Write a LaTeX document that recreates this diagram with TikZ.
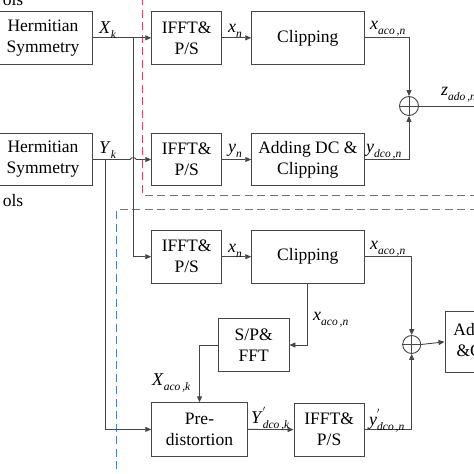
\documentclass[tikz,border=0pt]{standalone}
\usepackage{fontspec}
\setmainfont{Liberation Serif}
\usetikzlibrary{arrows.meta}
\definecolor{ln}{RGB}{70,70,70}
\definecolor{redd}{RGB}{205,75,100}
\definecolor{blued}{RGB}{75,125,195}
\newcommand\sbs[1]{\raisebox{-5.5pt}{\fontsize{11.5}{12}\selectfont\itshape #1}}
\newcommand\lbl[2]{\textit{#1}\sbs{#2}}
\newcommand\lblp[2]{\textit{#1}\rlap{\raisebox{7pt}{\fontsize{11.5}{12}\selectfont$'$}}\sbs{#2}}
\begin{document}
\begin{tikzpicture}[x=1pt,y=1pt,
  blk/.style={draw=ln,line width=0.9pt,rectangle,align=center,inner sep=0pt,
     font=\fontsize{17.5}{21}\selectfont,minimum height=52.5pt},
  sumc/.style={draw=ln,line width=0.9pt,circle,minimum size=19pt,inner sep=0pt},
  con/.style={draw=ln,line width=0.9pt},
  arr/.style={con,-{Triangle[length=6pt,width=5pt]}},
  lab/.style={anchor=base west,inner sep=0pt,font=\fontsize{18}{20}\selectfont},
  rframe/.style={draw=redd,line width=1.3pt,dash pattern=on 8pt off 4.5pt},
  bframe/.style={draw=blued,line width=1.3pt,dash pattern=on 8pt off 4.5pt}]
\useasboundingbox (0,0) rectangle (474,-474);
\clip (0,0) rectangle (474,-474);
% frames
\draw[rframe] (490,-195.5) -- (142.7,-195.5) -- (142.7,10);
\draw[bframe] (490,-209.5) -- (116.7,-209.5) -- (116.7,-490);
% side texts
\node[lab,anchor=base east,font=\fontsize{17.5}{21}\selectfont] (s1) at (23.5,-5) {ols};
\node[lab,anchor=base east,font=\fontsize{17.5}{21}\selectfont] (s2) at (23.5,-206) {ols};
% blocks
\node[blk,minimum width=99.4pt] (h1) at (43,-37.85) {Hermitian\\Symmetry};
\node[blk,minimum width=99.4pt] (h2) at (43,-159.5) {Hermitian\\Symmetry};
\node[blk,minimum width=70pt] (f1) at (186.7,-37.85) {IFFT\&\\P/S};
\node[blk,minimum width=70pt] (f2) at (186.7,-159.5) {IFFT\&\\P/S};
\node[blk,minimum width=112.3pt] (c1) at (307.85,-37.85) {Clipping};
\node[blk,minimum width=112.3pt] (c2) at (307.85,-159.5) {Adding DC \&\\Clipping};
\node[sumc] (o1) at (409,-106) {};
\node[blk,minimum width=70pt] (f3) at (186.7,-256.7) {IFFT\&\\P/S};
\node[blk,minimum width=112.3pt] (c3) at (307.85,-256.7) {Clipping};
\node[blk,minimum width=70.7pt,minimum height=53.4pt] (sp) at (253.65,-345) {S/P\&\\FFT};
\node[blk,minimum width=95.6pt,minimum height=53.3pt] (pd) at (199.5,-429.4) {Pre-\\distortion};
\node[blk,minimum width=70.3pt,minimum height=53pt] (f4) at (329.15,-429.6) {IFFT\&\\P/S};
\node[sumc,minimum size=18pt] (o2) at (411.7,-344.5) {};
\node[blk,minimum width=98pt,minimum height=61.7pt] (ad) at (494,-341.85) {Adding DC\\\&Clipping};
% plus signs
\draw[con] (o1.north) -- (o1.south) (o1.west) -- (o1.east);
\draw[con] (o2.north) -- (o2.south) (o2.west) -- (o2.east);
% coordinates
\coordinate (b1) at (133.3,-37.85);
\coordinate (b2) at (105,-159.5);
\coordinate (zend) at (480,-106);
% connectors
\draw[arr] (h1.east) -- (f1.west);
\draw[arr] (b1) |- (f3.west);
\draw[arr] (h2.east) -- (130.3,-159.5) to[out=90,in=90] (136.3,-159.5) -- (f2.west);
\draw[arr] (b2) |- (pd.west);
\draw[arr] (f1.east) -- (c1.west);
\draw[arr] (f2.east) -- (c2.west);
\draw[arr] (c1.east) -| (o1.north);
\draw[arr] (c2.east) -| (o1.south);
\draw[con] (o1.east) -- (zend);
\draw[arr] (f3.east) -- (c3.west);
\draw[arr] (c3.east) -| (o2.north);
\draw[arr] (c3.south) |- (sp.east);
\draw[arr] (sp.west) -| (pd.north);
\draw[arr] (pd.east) -- (f4.west);
\draw[arr] (f4.east) -| (o2.south);
\draw[arr] (o2.east) -- (ad.west);
% labels
\node[lab] (lXk) at (99,-33) {\lbl{X}{k}};
\node[lab] (lYk) at (99,-153) {\lbl{Y}{k}};
\node[lab] (lxn1) at (228,-32) {\lbl{x}{n}};
\node[lab] (lyn) at (228,-152) {\lbl{y}{n}};
\node[lab] (lxa1) at (370,-29) {\lbl{x}{aco\,,n}};
\node[lab] (lyd) at (366,-152) {\lbl{y}{dco\,,n}};
\node[lab] (lz) at (441,-95) {\lbl{z}{ado\,,n}};
\node[lab] (lxn3) at (228,-252) {\lbl{x}{n}};
\node[lab] (lxa3) at (370,-249) {\lbl{x}{aco\,,n}};
\node[lab] (lxa2) at (313,-320) {\lbl{x}{aco\,,n}};
\node[lab] (lXa) at (152,-385) {\lbl{X}{aco\,,k}};
\node[lab] (lYd) at (251,-423) {\lblp{Y}{dco\,,k}};
\node[lab] (lyd2) at (369,-425) {\lblp{y}{dco\,,n}};
\end{tikzpicture}
\end{document}
